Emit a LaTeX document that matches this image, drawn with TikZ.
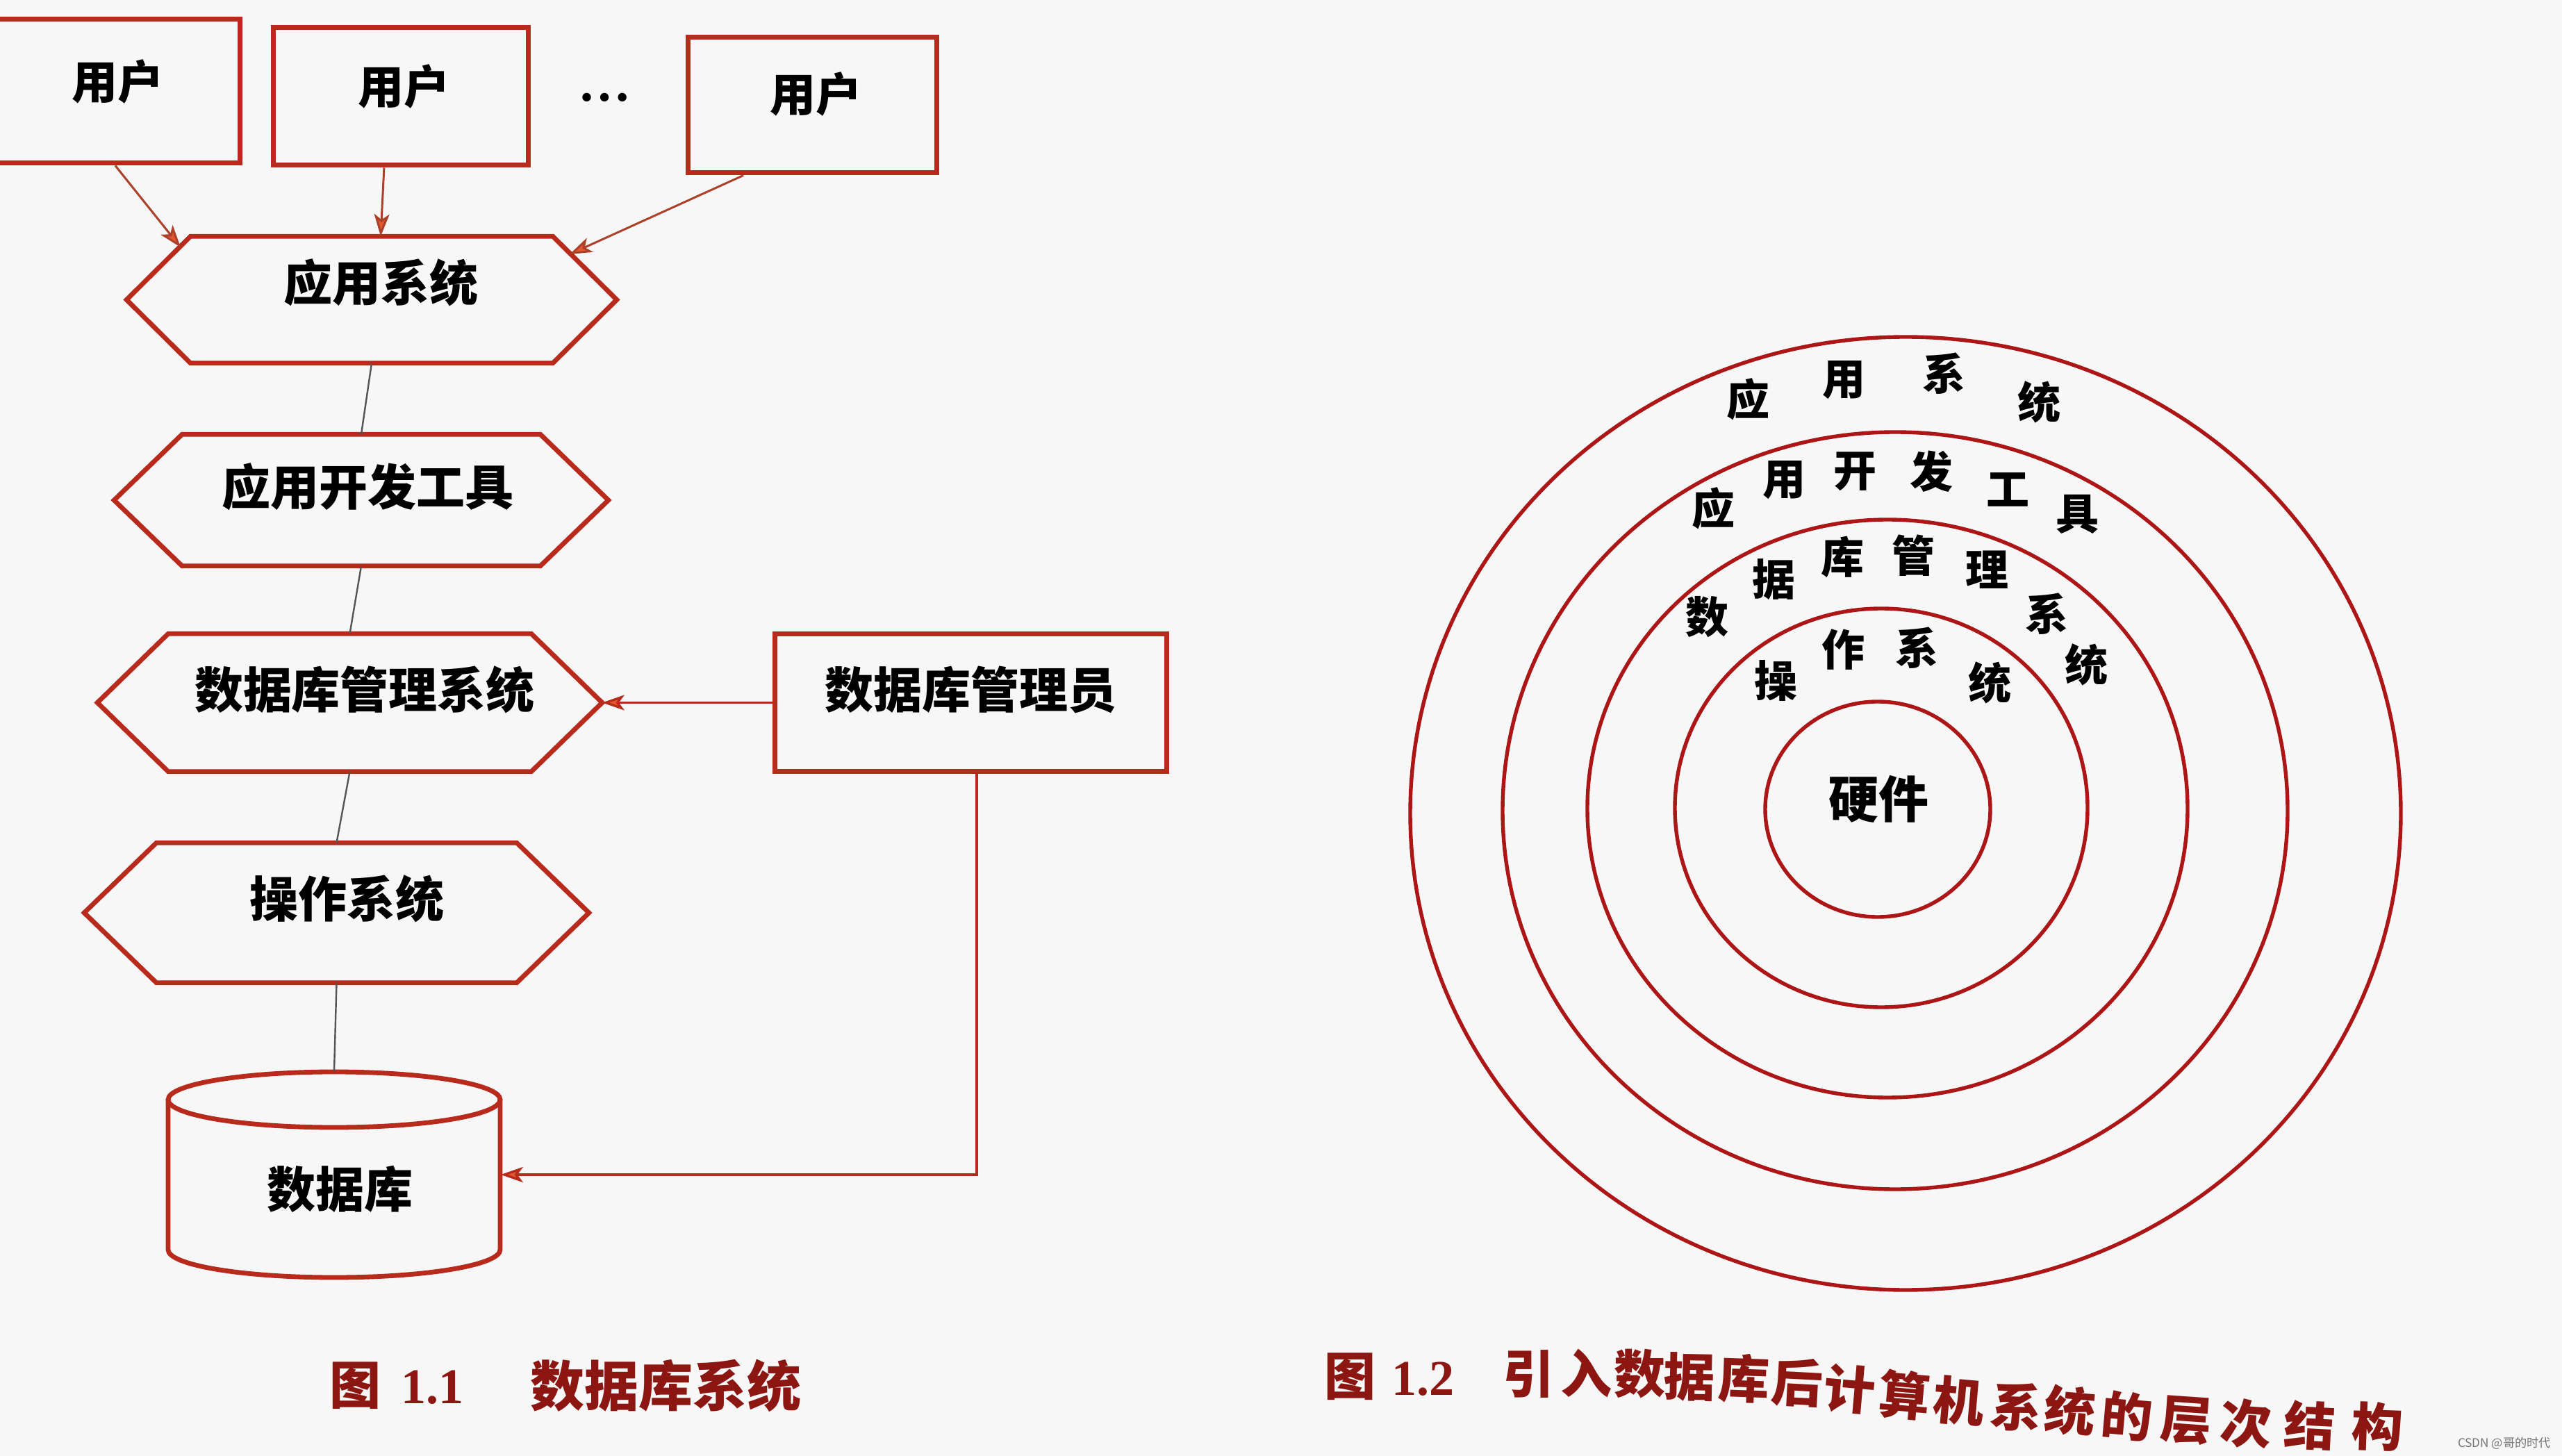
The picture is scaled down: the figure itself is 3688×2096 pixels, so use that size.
\documentclass[tikz,border=0pt]{standalone}
\usepackage{fontspec}
\newfontfamily\zh{Noto Sans CJK SC}
\newfontfamily\latinserif{Liberation Serif}
\usetikzlibrary{arrows.meta,calc}

\definecolor{bg}{RGB}{248,247,247}
\definecolor{boxred}{RGB}{183,42,28}
\definecolor{ringred}{RGB}{172,22,22}
\definecolor{linegray}{RGB}{85,85,85}
\definecolor{arrline}{RGB}{170,65,40}
\definecolor{tipfill}{RGB}{228,88,48}
\definecolor{capred}{RGB}{140,22,18}

\newcommand\hexshape[2]{\draw[hexline] (#1.west) -- ($(#1.north west)+(#2,0)$) -- ($(#1.north east)+(-#2,0)$) -- (#1.east) -- ($(#1.south east)+(-#2,0)$) -- ($(#1.south west)+(#2,0)$) -- cycle;}

\begin{document}
\begin{tikzpicture}[x=0.25pt,y=-0.25pt,
  boxnode/.style={draw=boxred, line width=1.75pt, inner sep=0pt},
  hexnode/.style={inner sep=0pt},
  hexline/.style={draw=boxred, line width=1.7pt, line join=miter},
  lbl/.style={font=\zh\bfseries\fontsize{17.5pt}{20pt}\selectfont, inner sep=0pt},
  ulbl/.style={font=\zh\bfseries\fontsize{16.5pt}{19pt}\selectfont, inner sep=0pt},
  ringch/.style={font=\zh\bfseries\fontsize{15.5pt}{18pt}\selectfont, inner sep=0pt},
  capch/.style={font=\zh\bfseries\fontsize{18.5pt}{21pt}\selectfont, text=capred, inner sep=0pt},
  capnum/.style={font=\latinserif\bfseries\fontsize{18pt}{20pt}\selectfont, text=capred, inner sep=0pt},
  ring/.style={draw=ringred, line width=1.35pt},
  joinline/.style={draw=linegray, line width=0.6pt},
  uarrow/.style={draw=arrline, line width=0.75pt, -{Stealth[length=8pt,width=5.5pt,inset=2pt,color=arrline,fill=tipfill]}},
  rarrow/.style={draw=boxred, line width=0.85pt, -{Stealth[length=8pt,width=5.5pt,inset=2pt,color=boxred,fill=tipfill]}},
  wm/.style={font=\zh\fontsize{4.3pt}{5pt}\selectfont, text=black!55, inner sep=0pt}
]
\fill[bg] (0,0) rectangle (3688,2096);
\path[use as bounding box] (0,0) rectangle (3688,2096);

% ---------- users ----------
\node[boxnode, minimum width=89.5pt, minimum height=51.75pt] (u1) at (166,131.5) {};
\node[boxnode, minimum width=91.75pt, minimum height=49.5pt] (u2) at (576.5,139) {};
\node[boxnode, minimum width=89.5pt, minimum height=48.75pt] (u3) at (1169,151.5) {};
\node[ulbl] (u1t) at (169,118) {用户};
\node[ulbl] (u2t) at (581,125) {用户};
\node[ulbl] (u3t) at (1174,136) {用户};
\node[font=\latinserif\bfseries\fontsize{19pt}{20pt}\selectfont, inner sep=0pt] (dots) at (870,140) {…};

% ---------- hexagons ----------
\node[hexnode, minimum width=176pt, minimum height=45.25pt] (as) at (535,431.5) {};
\node[hexnode, minimum width=177.5pt, minimum height=47pt] (adt) at (520,720) {};
\node[hexnode, minimum width=181.25pt, minimum height=49.25pt] (dbms) at (503.5,1011.5) {};
\node[hexnode, minimum width=181.25pt, minimum height=50pt] (os) at (484.5,1314) {};
\hexshape{as}{92}
\hexshape{adt}{98}
\hexshape{dbms}{102}
\hexshape{os}{104}
\node[lbl] (ast) at (548,407) {应用系统};
\node[lbl] (adtt) at (529,701) {应用开发工具};
\node[lbl] (dbmst) at (525,993) {数据库管理系统};
\node[lbl] (ost) at (499,1294) {操作系统};

% ---------- administrator ----------
\node[boxnode, minimum width=141pt, minimum height=49.25pt] (adm) at (1397,1011.5) {};
\node[lbl] (admt) at (1397,993) {数据库管理员};

% ---------- database cylinder ----------
\node[hexnode, minimum width=119.5pt, minimum height=74pt] (db) at (481,1691) {};
\draw[hexline] (242,1583) -- (242,1799) arc[start angle=180, end angle=0, x radius=239, y radius=40] -- (720,1583);
\draw[hexline] (481,1583) ellipse[x radius=239, y radius=40];
\node[lbl] (dbt) at (489,1712) {数据库};

% ---------- connectors ----------
\coordinate (asW) at (260,356);
\coordinate (asE) at (820,366);
\draw[uarrow] (u1.south) -- (asW);
\draw[uarrow] ([xshift=-5.9pt]u2.south) -- ([xshift=3.25pt]as.north);
\draw[uarrow] ([xshift=-24.75pt]u3.south) -- (asE);
\draw[joinline] (as.south) -- (adt.north);
\draw[joinline] (adt.south) -- (dbms.north);
\draw[joinline] (dbms.south) -- (os.north);
\draw[joinline] (os.south) -- (db.north);
\draw[rarrow] (adm.west) -- (dbms.east);
\draw[rarrow] ([xshift=2.25pt]adm.south) |- (db.east);

% ---------- rings ----------
\draw[ring] (2743,1171) ellipse[x radius=713, y radius=686];
\draw[ring] (2728,1167) ellipse[x radius=565, y radius=545];
\draw[ring] (2717,1164) ellipse[x radius=432, y radius=416];
\draw[ring] (2708,1163) ellipse[x radius=297, y radius=287];
\draw[ring] (2703,1165) ellipse[x radius=162, y radius=155];

\foreach \c/\x/\y [count=\i] in {应/2516/575, 用/2654/547, 系/2798/538, 统/2935/579}
  {\node[ringch] (ra\i) at (\x,\y) {\c};}
\foreach \c/\x/\y [count=\i] in {应/2466/732, 用/2568/691, 开/2670/679, 发/2780/679, 工/2890/705, 具/2990/740}
  {\node[ringch] (rb\i) at (\x,\y) {\c};}
\foreach \c/\x/\y [count=\i] in {数/2457/888, 据/2553/834, 库/2652/802, 管/2754/800, 理/2860/820, 系/2946/884, 统/3003/957}
  {\node[ringch] (rc\i) at (\x,\y) {\c};}
\foreach \c/\x/\y [count=\i] in {操/2556/980, 作/2653/935, 系/2759/933, 统/2864/983}
  {\node[ringch] (rd\i) at (\x,\y) {\c};}
\node[font=\zh\bfseries\fontsize{18pt}{20pt}\selectfont, inner sep=0pt] (hw) at (2704,1150) {硬件};

% ---------- captions ----------
\node[capch] (c1a) at (511,1995) {图};
\node[capnum] (c1b) at (622,1997) {1.1};
\node[capch, font=\zh\bfseries\fontsize{19.5pt}{21pt}\selectfont] (c1c) at (958,1995) {数据库系统};

\node[capch] (c2a) at (1943,1982) {图};
\node[capnum] (c2b) at (2048,1985) {1.2};
\foreach \c/\x/\y/\r [count=\i] in {引/2200/1978/0, 入/2283/1977/0, 数/2360/1978/0, 据/2432/1982/-1, 库/2510/1985/-2, 后/2587/1990/-3, 计/2663/2000/-5, 算/2742/2008/-5, 机/2820/2017/-5, 系/2903/2025/-5, 统/2980/2031/-5, 的/3062/2039/-5, 层/3147/2045/-4, 次/3233/2049/-4, 结/3325/2052/-3, 构/3422/2054/-2}
  {\node[capch, rotate=\r] (c2c\i) at (\x,\y) {\c};}

\node[wm] (wmk) at (3605,2078) {CSDN @哥的时代};
\end{tikzpicture}
\end{document}
